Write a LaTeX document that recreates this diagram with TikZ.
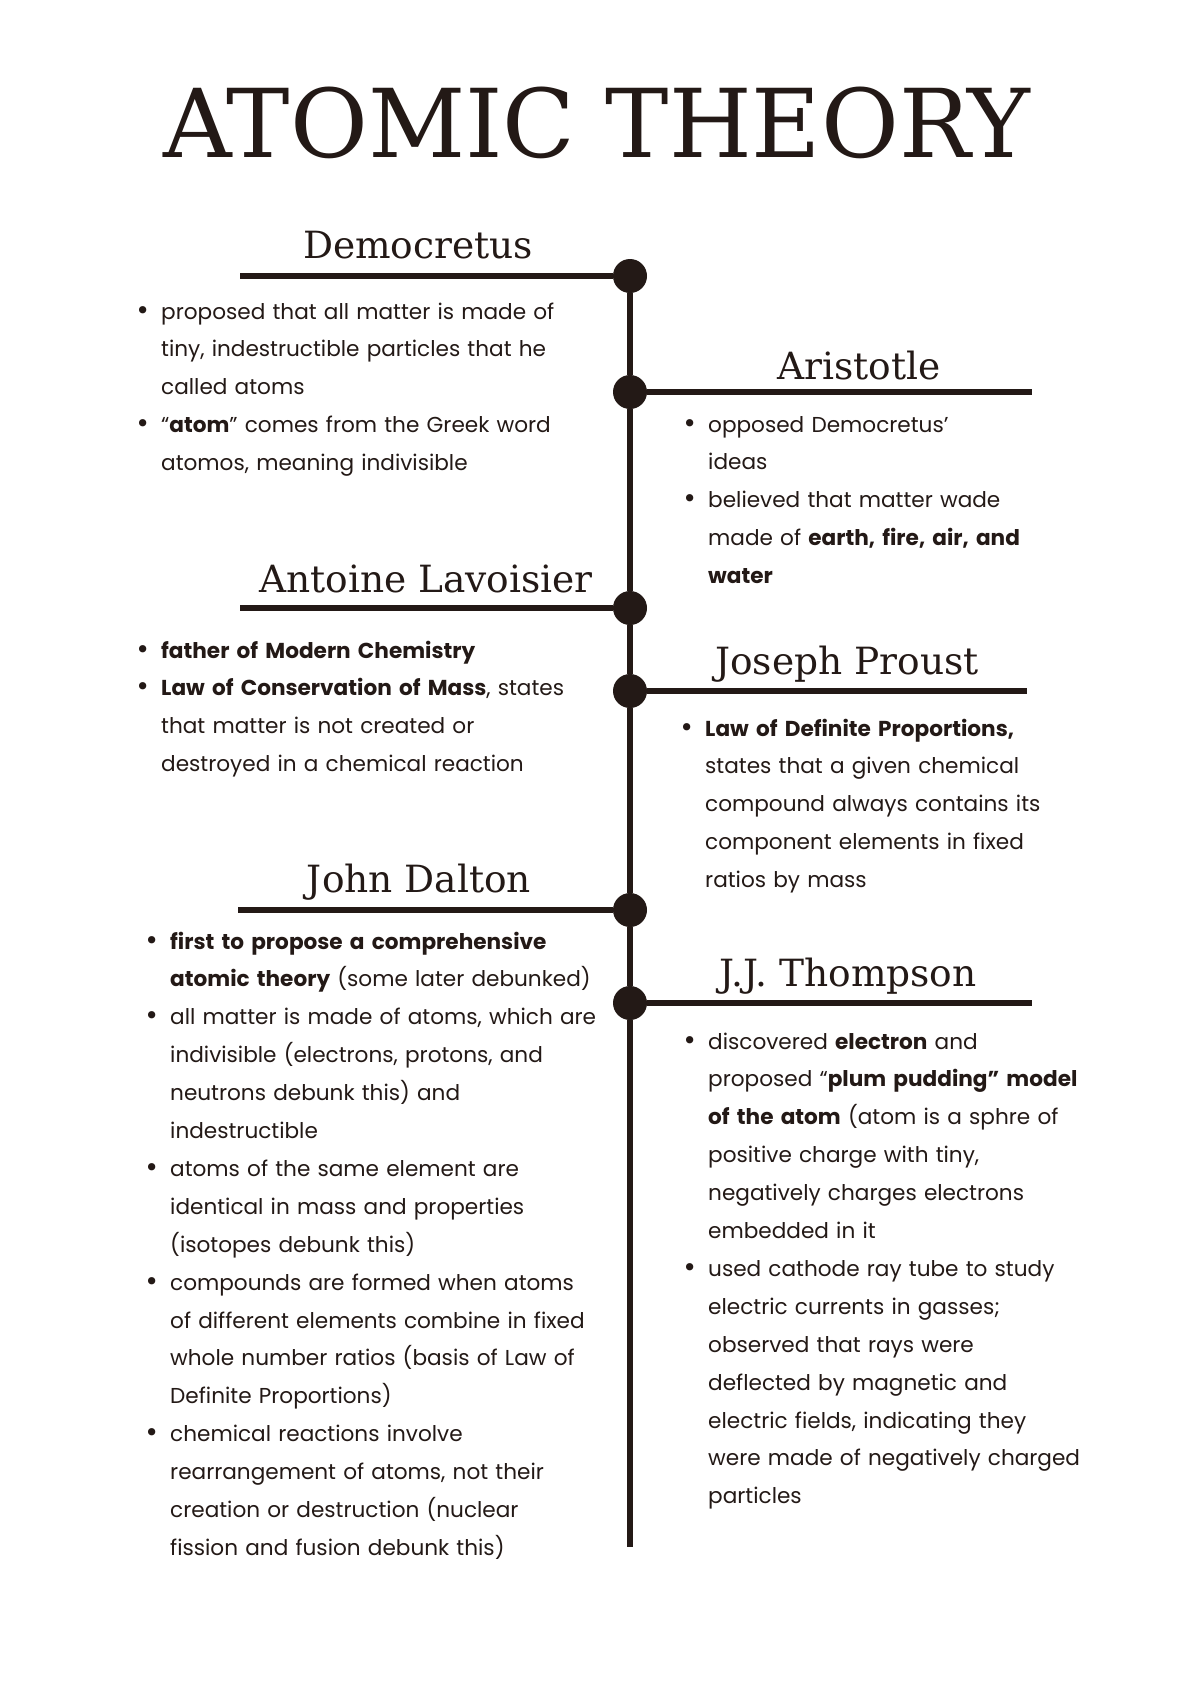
\documentclass[tikz,border=0pt]{standalone}
\usepackage{fontspec}
\setmainfont{Poppins}
\newfontfamily\headfont{DejaVu Serif}
\newfontfamily\symfont{DejaVu Sans}
\definecolor{ink}{RGB}{35,25,22}
\newcommand\bul{\leavevmode\llap{{\symfont\fontsize{25}{25}\selectfont •}\hspace{11pt}}}
\begin{document}
\begin{tikzpicture}[x=1pt,y=-1pt,
  dot/.style={circle, fill=ink, minimum size=34pt, inner sep=0pt},
  rule/.style={line width=5.5pt, draw=ink},
  head/.style={font=\headfont\fontsize{37.5}{40}\selectfont, text=ink, anchor=base, inner sep=0pt},
  body/.style={font=\fontsize{21.6}{37.9}\selectfont, text=ink, anchor=base west, inner sep=0pt, text width=560pt, align=left}]
\fill[white] (0,0) rectangle (1200,1698);
\useasboundingbox (0,0) rectangle (1200,1698);

\node[font=\headfont\fontsize{95}{100}\selectfont, text=ink, anchor=base, inner sep=0pt] (title) at (597,157) {ATOMIC THEORY};

% timeline dots
\node[dot] (d1) at (630,276) {};
\node[dot] (d2) at (630,392) {};
\node[dot] (d3) at (630,608) {};
\node[dot] (d4) at (630,691) {};
\node[dot] (d5) at (630,910) {};
\node[dot] (d6) at (630,1003) {};
\coordinate (bot) at (630,1547);
\draw[rule] (d1) -- (d2) -- (d3) -- (d4) -- (d5) -- (d6) -- (bot);

% branch ends
\coordinate (e1) at (240,276);
\coordinate (e2) at (1032,392);
\coordinate (e3) at (240,608);
\coordinate (e4) at (1027,691);
\coordinate (e5) at (238,910);
\coordinate (e6) at (1032,1003);
\draw[rule] (e1) -- (d1);
\draw[rule] (d2) -- (e2);
\draw[rule] (e3) -- (d3);
\draw[rule] (d4) -- (e4);
\draw[rule] (e5) -- (d5);
\draw[rule] (d6) -- (e6);

% headings
\node[head] (h1) at (418,258) {Democretus};
\node[head] (h2) at (859,379) {Aristotle};
\node[head] (h3) at (426,592) {Antoine Lavoisier};
\node[head] (h4) at (847,674) {Joseph Proust};
\node[head] (h5) at (419,892) {John Dalton};
\node[head] (h6) at (848,986) {J.J. Thompson};

% texts
\node[body] (t1) at (161,319) {\bul proposed that all matter is made of\\
tiny, indestructible particles that he\\
called atoms\\
\bul “\textbf{atom}” comes from the Greek word\\
atomos, meaning indivisible};

\node[body] (t2) at (708,432) {\bul opposed Democretus’\\
ideas\\
\bul believed that matter wade\\
made of \textbf{earth, fire, air, and}\\
\textbf{water}};

\node[body] (t3) at (161,658) {\bul \textbf{father of Modern Chemistry}\\
\bul \textbf{Law of Conservation of Mass}, states\\
that matter is not created or\\
destroyed in a chemical reaction};

\node[body] (t4) at (705,736) {\bul \textbf{Law of Definite Proportions,}\\
states that a given chemical\\
compound always contains its\\
component elements in fixed\\
ratios by mass};

\node[body] (t5) at (170,949) {\bul \textbf{first to propose a comprehensive}\\
\textbf{atomic theory} (some later debunked)\\
\bul all matter is made of atoms, which are\\
indivisible (electrons, protons, and\\
neutrons debunk this) and\\
indestructible\\
\bul atoms of the same element are\\
identical in mass and properties\\
(isotopes debunk this)\\
\bul compounds are formed when atoms\\
of different elements combine in fixed\\
whole number ratios (basis of Law of\\
Definite Proportions)\\
\bul chemical reactions involve\\
rearrangement of atoms, not their\\
creation or destruction (nuclear\\
fission and fusion debunk this)};

\node[body] (t6) at (708,1049) {\bul discovered \textbf{electron} and\\
proposed “\textbf{plum pudding” model}\\
\textbf{of the atom} (atom is a sphre of\\
positive charge with tiny,\\
negatively charges electrons\\
embedded in it\\
\bul used cathode ray tube to study\\
electric currents in gasses;\\
observed that rays were\\
deflected by magnetic and\\
electric fields, indicating they\\
were made of negatively charged\\
particles};
\end{tikzpicture}
\end{document}
